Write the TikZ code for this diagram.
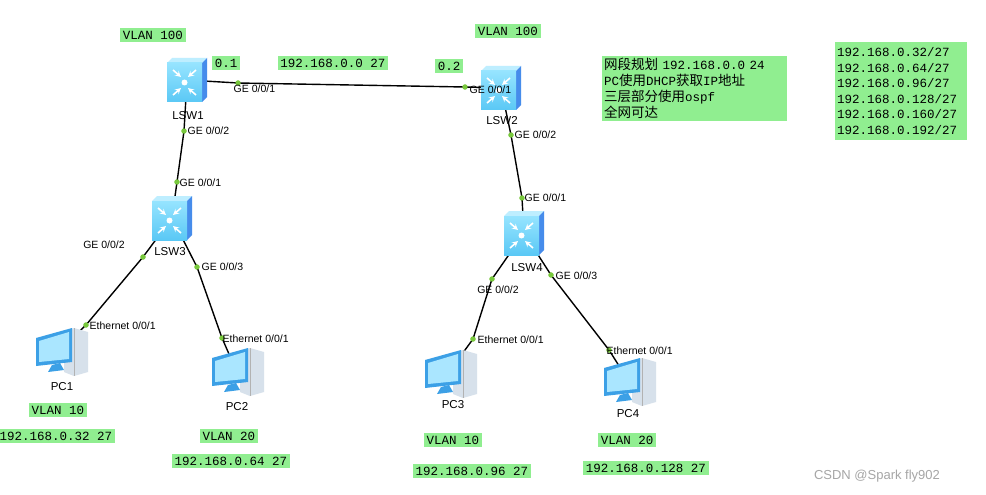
\documentclass[tikz,border=0pt]{standalone}
\usepackage{fontspec}
\setmainfont{Liberation Sans}
\newfontfamily\monof{Liberation Mono}
\newfontfamily\cjk{Noto Sans CJK SC}
\definecolor{lgreen}{RGB}{144,238,144}
\definecolor{dotgreen}{RGB}{120,200,60}
\definecolor{swtop}{RGB}{190,238,255}
\definecolor{swside}{RGB}{70,140,235}
\definecolor{swfa}{RGB}{150,228,255}
\definecolor{swfb}{RGB}{90,200,245}
\definecolor{pctower}{RGB}{215,225,235}
\definecolor{pcblue}{RGB}{60,160,230}
\definecolor{pcscreen}{RGB}{170,230,255}
\newcommand\mf{\monof\fontsize{12.5}{17}\selectfont}
\begin{document}
\begin{tikzpicture}[x=1pt,y=-1pt,
  gbox/.style={fill=lgreen, inner sep=2.5pt, font=\monof\fontsize{12.5}{14}\selectfont},
  port/.style={font=\fontsize{10.5}{12}\selectfont, inner sep=0.5pt},
  dev/.style={font=\fontsize{11.5}{13}\selectfont, inner sep=0.5pt},
  link/.style={line width=1.4pt},
  pdot/.style={circle, fill=dotgreen, inner sep=0, minimum size=5pt},
  swicon/.pic={
    \fill[swtop] (-20,-17)--(-15,-22)--(20,-22)--(15,-17)--cycle;
    \fill[swside] (15,-17)--(20,-22)--(20,17)--(15,22)--cycle;
    \shade[top color=swfa, bottom color=swfb] (-20,-17) rectangle (15,22);
    \begin{scope}[white, line width=1.6pt, -stealth]
      \draw (-14,-10)--(-6,-3); \draw (9,-10)--(1,-3);
      \draw (-14,15)--(-6,8); \draw (9,15)--(1,8);
    \end{scope}
    \fill[white] (-2.5,2.5) circle (3);
  },
  pcicon/.pic={
    \fill[pctower] (4,-18)--(14,-22)--(28,-18)--(28,22)--(14,26)--(4,22)--cycle;
    \draw[gray!60] (14,-22)--(14,26);
    \fill[pcblue] (-24,-12)--(12,-22)--(12,12)--(-24,16)--cycle;
    \fill[pcscreen] (-21,-9)--(9,-18)--(9,9)--(-21,12)--cycle;
    \fill[pcblue] (-8,15)--(0,13)--(4,20)--(-12,22)--cycle;
  }]
\useasboundingbox (0,0) rectangle (986,495);
\fill[white] (0,0) rectangle (986,495);

\coordinate (lsw1) at (187,80);
\coordinate (lsw2) at (501,88);
\coordinate (lsw3) at (172,218);
\coordinate (lsw4) at (524,233);
\coordinate (pc1) at (60,350);
\coordinate (pc2) at (236,370);
\coordinate (pc3) at (449,372);
\coordinate (pc4) at (628,380);

\node[pdot] (d1a) at (238,83) {};
\node[pdot] (d1b) at (465,87) {};
\node[pdot] (d2a) at (184,131) {};
\node[pdot] (d2b) at (177,182) {};
\node[pdot] (d3a) at (511,135) {};
\node[pdot] (d3b) at (522,198) {};
\node[pdot] (d4a) at (143,257) {};
\node[pdot] (d4b) at (86,325) {};
\node[pdot] (d5a) at (197,267) {};
\node[pdot] (d5b) at (222,338) {};
\node[pdot] (d6a) at (492,279) {};
\node[pdot] (d6b) at (473,339) {};
\node[pdot] (d7a) at (551,275) {};
\node[pdot] (d7b) at (609,350) {};

\draw[link] (lsw1) -- (d1a.center) -- (d1b.center) -- (lsw2);
\draw[link] (lsw1) -- (d2a.center) -- (d2b.center) -- (lsw3);
\draw[link] (lsw2) -- (d3a.center) -- (d3b.center) -- (lsw4);
\draw[link] (lsw3) -- (d4a.center) -- (d4b.center) -- (pc1);
\draw[link] (lsw3) -- (d5a.center) -- (d5b.center) -- (pc2);
\draw[link] (lsw4) -- (d6a.center) -- (d6b.center) -- (pc3);
\draw[link] (lsw4) -- (d7a.center) -- (d7b.center) -- (pc4);
\foreach \d in {d1a,d1b,d2a,d2b,d3a,d3b,d4a,d4b,d5a,d5b,d6a,d6b,d7a,d7b} \fill[dotgreen] (\d) circle (2.7);

\pic at (lsw1) {swicon};
\pic at (lsw2) {swicon};
\pic at (lsw3) {swicon};
\pic at (lsw4) {swicon};
\pic at (pc1) {pcicon};
\pic at (pc2) {pcicon};
\pic at (pc3) {pcicon};
\pic at (pc4) {pcicon};

\node[dev] (l1) at (188,116) {LSW1};
\node[dev] (l2) at (502,121) {LSW2};
\node[dev] (l3) at (170,252) {LSW3};
\node[dev] (l4) at (527,268) {LSW4};
\node[dev] (p1) at (62,387) {PC1};
\node[dev] (p2) at (237,407) {PC2};
\node[dev] (p3) at (453,405) {PC3};
\node[dev] (p4) at (628,414) {PC4};

\node[port, anchor=west] at (233,89) {GE 0/0/1};
\node[port, anchor=west] at (469,90) {GE 0/0/1};
\node[port, anchor=west] at (187,131) {GE 0/0/2};
\node[port, anchor=west] at (179,183) {GE 0/0/1};
\node[port, anchor=west] at (514,135) {GE 0/0/2};
\node[port, anchor=west] at (524,198) {GE 0/0/1};
\node[port] at (104,245) {GE 0/0/2};
\node[port, anchor=west] at (89,326) {Ethernet 0/0/1};
\node[port, anchor=west] at (201,267) {GE 0/0/3};
\node[port, anchor=west] at (222,339) {Ethernet 0/0/1};
\node[port] at (498,290) {GE 0/0/2};
\node[port, anchor=west] at (477,340) {Ethernet 0/0/1};
\node[port, anchor=west] at (555,276) {GE 0/0/3};
\node[port, anchor=west] at (606,351) {Ethernet 0/0/1};

\node[gbox] at (153,35) {VLAN 100};
\node[gbox] at (508,31) {VLAN 100};
\node[gbox] at (226,63) {0.1};
\node[gbox] at (333,63) {192.168.0.0 27};
\node[gbox] at (449,66) {0.2};
\node[gbox] at (58,410) {VLAN 10};
\node[gbox] at (56,436) {192.168.0.32 27};
\node[gbox] at (229,436) {VLAN 20};
\node[gbox] at (231,461) {192.168.0.64 27};
\node[gbox] at (453,440) {VLAN 10};
\node[gbox] at (472,471) {192.168.0.96 27};
\node[gbox] at (627,440) {VLAN 20};
\node[gbox] at (646,468) {192.168.0.128 27};

\node[gbox, anchor=north west, align=left, text width=181pt, minimum height=64pt, font=\fontsize{13.5}{16}\selectfont, inner sep=2pt] at (602,56)
  {{\cjk 网段规划} {\mf 192.168.0.0 24}\\
   {\mf PC}{\cjk 使用}{\mf DHCP}{\cjk 获取}{\mf IP}{\cjk 地址}\\
   {\cjk 三层部分使用}{\mf ospf}\\
   {\cjk 全网可达}};
\node[gbox, anchor=north west, align=left, text width=128pt, minimum height=98pt, font=\monof\fontsize{12.5}{15.5}\selectfont, inner sep=2pt] at (835,42)
  {192.168.0.32/27\\192.168.0.64/27\\192.168.0.96/27\\192.168.0.128/27\\192.168.0.160/27\\192.168.0.192/27};

\node[font=\fontsize{13}{14}\selectfont, text=gray!70] at (877,476) {CSDN @Spark fly902};
\end{tikzpicture}
\end{document}
